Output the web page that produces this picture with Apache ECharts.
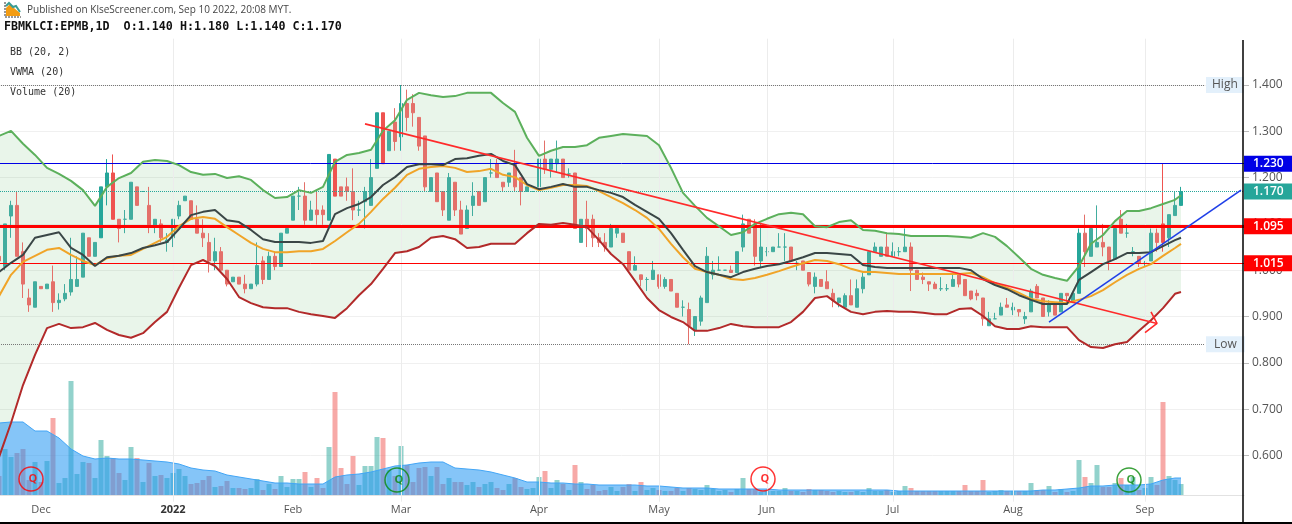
<!DOCTYPE html>
<html><head><meta charset="utf-8">
<style>html,body{margin:0;padding:0;background:#fff}#c{width:1292px;height:524px}</style>
<script src="https://cdn.jsdelivr.net/npm/echarts@6/dist/echarts.min.js"></script>
</head><body><div id="c"></div>
<script>
// [open, high, low, close] per trading day
const candles = [
[1.03,1.03,1.02,1.02],[1.008,1.10,1.0,1.10],[1.117,1.15,1.07,1.14],[1.14,1.17,1.03,1.03],[1.04,1.06,.94,.97],
[.94,.96,.91,.925],[.92,.975,.92,.975],[.965,.965,.96,.96],[.96,.97,.96,.97],[.975,1.01,.91,.93],
[.93,.95,.915,.935],[.938,.97,.933,.95],[.953,1.07,.945,.98],[.965,1.03,.965,.98],[.985,1.08,.985,1.08],
[1.07,1.07,1.03,1.03],[1.03,1.06,1.03,1.06],[1.07,1.18,1.07,1.18],[1.18,1.24,1.14,1.21],[1.21,1.25,1.11,1.11],
[1.11,1.11,1.06,1.09],[1.11,1.13,1.08,1.11],[1.11,1.19,1.11,1.19],[1.18,1.18,1.14,1.14],[1.17,1.17,1.17,1.17],
[1.14,1.18,1.08,1.095],[1.097,1.11,1.08,1.11],[1.10,1.11,1.06,1.07],[1.06,1.08,1.04,1.065],[1.07,1.11,1.05,1.11],
[1.117,1.15,1.11,1.14],[1.15,1.16,1.15,1.16],[1.15,1.15,1.11,1.11],[1.11,1.14,1.08,1.08],[1.08,1.11,1.05,1.07],
[1.06,1.08,.995,1.02],[1.02,1.07,1.0,1.04],[1.04,1.05,1.0,1.0],[1.0,1.0,.965,.97],[.975,.985,.975,.985],
[.985,.985,.97,.97],[.97,.99,.95,.96],[.96,.97,.96,.97],[.97,1.06,.965,1.01],[1.02,1.03,.97,.98],
[.98,1.04,.98,1.03],[1.03,1.04,1.0,1.008],[1.008,1.08,1.008,1.08],[1.08,1.09,1.08,1.09],[1.108,1.16,1.108,1.16],
[1.16,1.18,1.13,1.16],[1.16,1.19,1.098,1.108],[1.108,1.15,1.108,1.13],[1.13,1.17,1.098,1.12],[1.13,1.14,1.098,1.12],
[1.108,1.25,1.108,1.25],[1.24,1.24,1.16,1.16],[1.18,1.18,1.16,1.16],[1.18,1.2,1.15,1.17],[1.17,1.22,1.108,1.13],
[1.13,1.15,1.117,1.13],[1.148,1.18,1.09,1.17],[1.14,1.24,1.14,1.2],[1.22,1.34,1.22,1.34],[1.34,1.34,1.23,1.23],
[1.258,1.3,1.258,1.3],[1.32,1.35,1.258,1.278],[1.288,1.4,1.258,1.36],[1.36,1.39,1.3,1.33],[1.36,1.38,1.31,1.34],
[1.33,1.33,1.258,1.268],[1.29,1.29,1.17,1.18],[1.17,1.2,1.17,1.2],[1.21,1.21,1.148,1.148],[1.17,1.17,1.117,1.13],
[1.108,1.21,1.108,1.2],[1.19,1.19,1.117,1.13],[1.13,1.15,1.078,1.078],[1.09,1.14,1.09,1.13],[1.14,1.19,1.117,1.16],
[1.17,1.17,1.14,1.14],[1.148,1.2,1.148,1.2],[1.21,1.24,1.2,1.21],[1.23,1.24,1.2,1.2],[1.19,1.19,1.17,1.18],
[1.19,1.21,1.18,1.21],[1.23,1.26,1.17,1.18],[1.2,1.2,1.14,1.17],[1.17,1.18,1.17,1.18],[1.17,1.17,1.17,1.17],
[1.18,1.24,1.18,1.24],[1.24,1.28,1.208,1.218],[1.218,1.24,1.2,1.24],[1.23,1.28,1.21,1.24],[1.24,1.24,1.2,1.2],
[1.208,1.22,1.2,1.208],[1.21,1.21,1.09,1.09],[1.06,1.11,1.06,1.11],[1.11,1.15,1.05,1.09],[1.11,1.12,1.05,1.07],
[1.07,1.08,1.05,1.06],[1.06,1.08,1.04,1.05],[1.05,1.1,1.05,1.09],[1.08,1.09,1.07,1.09],[1.08,1.08,1.06,1.06],
[1.04,1.04,1.0,1.0],[1.0,1.03,1.0,1.01],[.99,.99,.965,.98],[.98,.985,.955,.98],[.98,1.02,.98,1.0],
[.99,.99,.96,.965],[.965,.985,.96,.98],[.98,.98,.955,.955],[.95,.95,.92,.92],[.92,.935,.9,.92],
[.915,.93,.84,.88],[.87,.9,.858,.9],[.89,.945,.88,.94],[.93,1.05,.93,1.03],[.99,1.02,.98,1.0],
[1.0,1.03,1.0,1.0],[1.0,1.0,1.0,1.0],[1.0,1.01,.995,.995],[.995,1.04,.995,1.04],[1.05,1.12,1.04,1.1],
[1.11,1.11,1.08,1.08],[1.1,1.11,1.01,1.03],[1.02,1.1,1.005,1.05],[1.04,1.05,1.03,1.04],[1.04,1.05,1.04,1.05],
[1.05,1.08,1.05,1.05],[1.05,1.08,1.02,1.05],[1.05,1.05,1.02,1.02],[1.015,1.02,1.0,1.015],[1.02,1.02,1.0,1.0],
[.995,.995,.965,.97],[.965,.995,.95,.985],[.98,.98,.965,.965],[.975,1.0,.96,.96],[.95,.96,.92,.935],
[.93,.94,.92,.94],[.92,.95,.92,.945],[.945,.98,.925,.925],[.92,.98,.92,.96],[.96,.995,.95,.985],
[.99,1.04,.99,1.04],[1.04,1.06,1.04,1.05],[1.03,1.05,1.03,1.05],[1.05,1.08,1.03,1.03],[1.03,1.06,1.03,1.04],
[1.04,1.05,1.03,1.04],[1.04,1.09,1.04,1.05],[1.05,1.06,.955,1.0],[1.0,1.0,.98,.98],[.985,.995,.97,.98],
[.975,.975,.955,.97],[.97,.975,.96,.96],[.96,.985,.955,.96],[.96,.97,.955,.96],[.965,.99,.965,.98],
[.99,.99,.963,.97],[.98,.98,.945,.945],[.955,.955,.935,.938],[.95,.958,.935,.945],[.94,.94,.88,.895],
[.88,.91,.88,.895],[.895,.908,.895,.895],[.903,.93,.903,.92],[.925,.94,.92,.92],[.914,.93,.903,.92],
[.915,.915,.9,.91],[.895,.91,.884,.9],[.91,.96,.91,.955],[.965,.97,.94,.94],[.94,.94,.9,.9],
[.91,.935,.9,.926],[.925,.925,.903,.903],[.91,.95,.91,.95],[.95,.95,.925,.945],[.93,.95,.93,.95],
[.95,1.09,.95,1.08],[1.08,1.12,1.007,1.04],[1.03,1.09,1.03,1.09],[1.05,1.14,1.05,1.06],[1.06,1.1,1.03,1.05],
[1.05,1.05,1.0,1.02],[1.024,1.09,1.024,1.09],[1.11,1.13,1.08,1.08],[1.08,1.1,1.07,1.08],[1.04,1.05,1.03,1.04],
[1.03,1.03,1.007,1.015],[1.015,1.02,1.007,1.015],[1.02,1.09,1.02,1.08],[1.08,1.09,1.04,1.06],[1.1,1.23,1.04,1.06],
[1.07,1.12,1.05,1.12],[1.118,1.17,1.118,1.14],[1.14,1.18,1.14,1.17]
];
const brightBars = [17,18,19,55,56,63,64,67,180,194,197];
const volumes = [
19,46,38,42,46,15,33,13,34,77,12,17,114,21,33,32,17,55,39,37,
22,15,48,37,13,32,19,20,17,22,26,19,11,12,15,19,8,9,14,7,
7,6,7,16,5,11,6,19,8,16,16,23,8,17,7,48,103,27,11,39,
10,29,29,58,57,25,19,49,30,13,27,28,19,28,11,17,13,13,10,13,
8,11,13,7,5,11,17,8,6,7,18,24,7,15,11,5,30,13,6,10,
4,5,8,4,8,11,4,13,5,7,5,4,4,7,4,7,6,5,10,6,
4,5,3,6,17,6,6,3,4,4,4,7,4,4,3,6,5,5,4,3,
4,3,3,4,3,7,4,4,5,3,4,9,7,4,4,4,4,4,4,4,
4,10,4,4,15,3,4,5,4,4,4,4,12,5,5,9,3,6,3,4,
35,18,12,30,8,8,12,17,10,18,5,7,18,10,93,19,15,11
];
// Indicator readings, taken at every second trading day plus the final day
const bbUpper = [
1.290,1.301,1.273,1.249,1.221,1.208,1.193,1.173,1.139,1.180,
1.199,1.210,1.234,1.238,1.236,1.227,1.212,1.206,1.208,1.199,
1.203,1.195,1.173,1.156,1.158,1.173,1.167,1.180,1.234,1.249,
1.253,1.260,1.301,1.324,1.368,1.383,1.378,1.374,1.376,1.383,
1.383,1.383,1.361,1.342,1.286,1.247,1.258,1.266,1.266,1.270,
1.286,1.290,1.294,1.292,1.290,1.270,1.221,1.167,1.139,1.113,
1.095,1.076,1.082,1.100,1.111,1.121,1.124,1.121,1.095,1.093,
1.104,1.108,1.087,1.085,1.080,1.078,1.074,1.074,1.074,1.074,
1.072,1.070,1.080,1.072,1.052,1.028,1.003,.990,.983,.977,
1.009,1.057,1.076,1.106,1.128,1.128,1.134,1.143,1.152,1.162];
const bbLower = [
.596,.670,.752,.817,.875,.884,.875,.877,.886,.871,
.860,.854,.864,.888,.910,.962,1.011,1.022,1.009,.981,
.942,.929,.920,.918,.918,.910,.905,.901,.897,.918,
.946,.970,1.003,1.037,1.041,1.050,1.070,1.074,1.067,1.048,
1.050,1.057,1.057,1.057,1.080,1.100,1.098,1.102,1.098,1.093,
1.065,1.035,1.013,.977,.940,.914,.899,.888,.869,.869,
.875,.884,.879,.877,.877,.877,.888,.910,.940,.944,
.925,.910,.905,.910,.912,.910,.910,.908,.905,.905,
.916,.918,.901,.879,.873,.873,.879,.877,.877,.877,
.849,.834,.832,.840,.845,.869,.892,.918,.949,.953];
const vwma = [
.996,1.016,1.033,1.070,1.076,1.082,1.048,1.033,1.009,1.028,
1.031,1.037,1.048,1.054,1.061,1.089,1.119,1.126,1.130,1.108,
1.104,1.087,1.067,1.061,1.061,1.061,1.059,1.063,1.121,1.134,
1.143,1.158,1.184,1.201,1.223,1.229,1.229,1.227,1.240,1.242,
1.247,1.251,1.236,1.227,1.186,1.175,1.180,1.186,1.180,1.180,
1.173,1.167,1.158,1.141,1.126,1.111,1.080,1.044,1.009,.996,
.990,.985,.996,1.003,1.009,1.013,1.020,1.028,1.037,1.037,
1.035,1.033,1.011,1.007,1.005,1.005,1.005,1.005,1.005,1.005,
1.005,1.000,.981,.968,.959,.946,.936,.927,.927,.927,
.979,.996,1.013,1.024,1.037,1.037,1.039,1.052,1.065,1.070];
const bbBasis = [
.944,.990,1.018,1.031,1.044,1.048,1.033,1.020,1.011,1.026,
1.031,1.033,1.046,1.059,1.072,1.095,1.111,1.115,1.111,1.093,
1.076,1.059,1.046,1.039,1.039,1.041,1.041,1.046,1.063,1.082,
1.100,1.126,1.154,1.178,1.206,1.219,1.223,1.225,1.221,1.212,
1.214,1.219,1.206,1.201,1.184,1.173,1.178,1.184,1.184,1.182,
1.171,1.158,1.145,1.130,1.113,1.089,1.057,1.028,1.003,.996,
.990,.981,.979,.983,.990,.998,1.007,1.015,1.022,1.020,
1.013,1.003,.996,.996,.994,.992,.992,.992,.992,.992,
.992,.994,.985,.972,.962,.951,.938,.933,.931,.929,
.936,.944,.957,.974,.990,1.003,1.013,1.031,1.048,1.057];
const volumeMa = [
72,73,73,64,64,57,46,39,36,37,
36,36,35,34,33,31,27,25,24,20,
18,16,14,12,12,11,11,11,18,20,
21,23,26,29,30,32,33,33,27,26,
25,23,20,17,13,13,12,12,11,11,
10,10,10,10,9,9,8,7,7,7,
6,6,6,6,6,5,5,5,5,5,
5,5,5,5,5,4,4,4,4,4,
4,4,4,4,4,4,4,5,5,6,
7,9,9,10,10,10,11,15,17,17];
const levelTags = [1.23,1.17,1.095,1.015];
const levelColors = ['#0000e6','#26a69a','#ff0000','#ff0000'];
const highPrice = 1.4, lowPrice = 0.84;
const monthNames = ['Dec','2022','Feb','Mar','Apr','May','Jun','Jul','Aug','Sep'];
const monthBars = [7,29,49,67,90,110,128,149,169,191];
const gridBars = [29,67,90,110,128,149,169,191];
const redTrend = [[61,1.316],[193,.885]];
const redArrow = [[192,.91],[193,.885],[191,.865]];
const blueTrend = [[175,.888],[207,1.173]];
const quarterBars = [5,66,127,188];
const quarterColors = ['#ff0000','#0a8a0a','#ff0000','#0a8a0a'];
const quarterLevel = [16,15,16,15];
const barCount = 208;

const categories = Array.from({length: barCount}, (_, i) => String(i));
const lineBars = bbUpper.map((_, k) => k === bbUpper.length - 1 ? 197 : k * 2);
const pairs = a => a.map((v, k) => [lineBars[k], v]);
const UP = '#42ad9f', DOWN = '#e4706a', UPB = '#26a69a', DOWNB = '#ef5350';
const candleData = candles.map((c, i) => {
  const up = c[3] >= c[0], b = brightBars.includes(i);
  const col = up ? (b ? UPB : UP) : (b ? DOWNB : DOWN);
  return {value: [c[0], c[3], c[2], c[1]], itemStyle: {color: col, color0: col, borderColor: col, borderColor0: col}};
});
const volData = volumes.map((v, i) => ({value: v, itemStyle: {color: candles[i][3] >= candles[i][0] ? 'rgba(38,166,154,.5)' : 'rgba(239,83,80,.5)'}}));
const FONT = '"Open Sans"', MONO = '"DejaVu Sans Mono"';
const lineSeries = (name, data, color, width, z) => ({name, type: 'line', xAxisIndex: 0, yAxisIndex: 0, data, symbol: 'none', z, silent: true, lineStyle: {color, width}, clip: true});

const chart = echarts.init(document.getElementById('c'), null, {renderer: 'canvas'});
chart.setOption({
  animation: false,
  backgroundColor: '#fff',
  grid: [
    {left: -4, width: 1248, top: 38.7, height: 463, outerBoundsMode: 'none'},
    {left: -4, width: 1248, top: 370, height: 125, outerBoundsMode: 'none'}
  ],
  xAxis: [
    {type: 'category', gridIndex: 0, data: categories, show: false},
    {type: 'category', gridIndex: 1, data: categories,
     axisLine: {lineStyle: {color: '#e2e2e2'}}, axisTick: {show: false},
     axisLabel: {margin: 9, color: '#555', fontFamily: FONT, fontSize: 11,
       interval: (i) => monthBars.includes(i),
       formatter: (v, i) => { const n = monthNames[monthBars.indexOf(+v)]; return n === '2022' ? '{b|2022}' : n; },
       rich: {b: {fontWeight: 'bold', color: '#333', fontFamily: FONT, fontSize: 11}}},
     splitLine: {show: false}}
  ],
  yAxis: [
    {type: 'value', gridIndex: 0, position: 'right', min: 0.5, max: 1.5, interval: 0.1,
     axisLine: {show: false}, axisTick: {show: true, length: 5, lineStyle: {color: '#bbb'}},
     axisLabel: {color: '#555', fontFamily: FONT, fontSize: 12, margin: 8, showMinLabel: false, showMaxLabel: false,
       formatter: v => v.toFixed(3)},
     splitLine: {showMinLine: false, showMaxLine: false, lineStyle: {color: '#f0f0f0'}}},
    {type: 'value', gridIndex: 1, min: 0, max: 125, show: false}
  ],
  graphic: [
    {type: 'polygon', shape: {points: [[6,16],[6,8],[10,4],[14,8],[20,13],[20,16]]}, style: {fill: '#f39c12'}, silent: true},
    {type: 'polyline', shape: {points: [[6,6],[9,3],[13,7],[16,6],[20,12]]}, style: {stroke: '#3a9d95', lineWidth: 2, fill: null}, silent: true},
    {type: 'line', shape: {x1: 5, y1: 2, x2: 5, y2: 17}, style: {stroke: '#333', lineWidth: 1, lineDash: [2, 1]}, silent: true},
    {type: 'line', shape: {x1: 5, y1: 17, x2: 21, y2: 17}, style: {stroke: '#333', lineWidth: 1, lineDash: [2, 1]}, silent: true},
    {type: 'text', left: 27, top: 5, style: {text: 'Published on KlseScreener.com, Sep 10 2022, 20:08 MYT.', fill: '#444', font: '10px "Open Sans"'}},
    {type: 'text', left: 4, top: 21, style: {text: 'FBMKLCI:EPMB,1D  O:1.140 H:1.180 L:1.140 C:1.170', fill: '#111', font: 'bold 11.7px "DejaVu Sans Mono"'}},
    {type: 'text', left: 10, top: 47, style: {text: 'BB (20, 2)', fill: '#333', font: '10px "DejaVu Sans Mono"'}},
    {type: 'text', left: 10, top: 67, style: {text: 'VWMA (20)', fill: '#333', font: '10px "DejaVu Sans Mono"'}},
    {type: 'text', left: 10, top: 87, style: {text: 'Volume (20)', fill: '#333', font: '10px "DejaVu Sans Mono"'}},
    {type: 'line', shape: {x1: 1243, y1: 40, x2: 1243, y2: 524}, style: {stroke: '#000', lineWidth: 1.5}, silent: true, z: 100},
    {type: 'line', shape: {x1: 0, y1: 523, x2: 1292, y2: 523}, style: {stroke: '#000', lineWidth: 2}, silent: true, z: 100}
  ],
  series: [
    {name: 'Grid', type: 'line', xAxisIndex: 0, yAxisIndex: 0, data: [], z: 0, silent: true,
     markLine: {silent: true, symbol: 'none', animation: false, label: {show: false},
       lineStyle: {color: '#ececec', width: 1, type: 'solid'},
       data: gridBars.map(b => ({xAxis: String(b)}))}},
    {name: 'BB band', type: 'custom', xAxisIndex: 0, yAxisIndex: 0, z: 1, silent: true, clip: true,
     data: [[0, bbUpper[0]]],
     renderItem: (params, api) => {
       const pts = pairs(bbUpper).concat(pairs(bbLower).reverse()).map(p => api.coord(p));
       return {type: 'polygon', shape: {points: pts}, style: {fill: 'rgba(76,175,80,0.12)'}};
     }},
    {name: 'Volume', type: 'bar', xAxisIndex: 1, yAxisIndex: 1, data: volData, barWidth: 5, z: 2, silent: true},
    {name: 'Volume MA', type: 'line', xAxisIndex: 1, yAxisIndex: 1, data: pairs(volumeMa), symbol: 'none', z: 3, silent: true,
     lineStyle: {color: '#42a5f5', width: 1}, areaStyle: {color: 'rgba(33,150,243,.55)', opacity: 1}},
    {name: 'Price', type: 'candlestick', xAxisIndex: 0, yAxisIndex: 0, data: candleData, barWidth: 4, z: 4, silent: true,
     itemStyle: {borderWidth: 1}},
    lineSeries('BB upper', pairs(bbUpper), '#5cb05c', 2, 5),
    lineSeries('BB lower', pairs(bbLower), '#b22a2a', 2, 5),
    lineSeries('Basis', pairs(bbBasis), '#f0a428', 2, 6),
    lineSeries('VWMA', pairs(vwma), '#3a4646', 2, 7),
    lineSeries('Trend down', redTrend, '#ff2a2a', 1.6, 8),
    lineSeries('Trend arrow', redArrow, '#ff2a2a', 1.6, 8),
    lineSeries('Trend up', blueTrend, '#1f3fe8', 1.6, 8),
    {name: 'Levels', type: 'line', xAxisIndex: 0, yAxisIndex: 0, data: [], z: 9, silent: true,
     markLine: {silent: true, symbol: 'none', animation: false, precision: 3,
       data: levelTags.map((v, k) => ({
         yAxis: v,
         lineStyle: {color: levelColors[k], width: v === 1.095 ? 3 : 1, type: v === 1.17 ? 'dotted' : 'solid'},
         label: {show: true, position: 'end', distance: 0, formatter: v.toFixed(3), color: '#fff', fontFamily: FONT, fontSize: 12, fontWeight: 600,
           backgroundColor: levelColors[k], padding: [1, 10, 1, 9], lineHeight: 14}
       })).concat([highPrice, lowPrice].map((v, k) => [
         {xAxis: '0', yAxis: v,
          lineStyle: {color: '#777', width: 1, type: 'dotted'},
          label: {show: true, position: 'end', distance: 1, formatter: k ? 'Low' : 'High', color: '#555', fontFamily: FONT, fontSize: 12,
            backgroundColor: '#e3f0fb', padding: k ? [1, 8, 1, 8] : [1, 6, 1, 6], lineHeight: 14}},
         {xAxis: '201', yAxis: v}
       ]))}},
    {name: 'Quarterly', type: 'scatter', xAxisIndex: 1, yAxisIndex: 1, z: 10, silent: true, symbolSize: 24, symbolOffset: [2, 0],
     data: quarterBars.map((b, k) => ({
       value: [b, quarterLevel[k]],
       itemStyle: {color: 'rgba(0,0,0,0)', borderColor: quarterColors[k], borderWidth: 1.5},
       label: {show: true, position: 'inside', formatter: 'Q', color: quarterColors[k], fontFamily: FONT, fontSize: 11, fontWeight: 'bold', offset: [2, 0]}
     }))}
  ]
});
</script></body></html>
